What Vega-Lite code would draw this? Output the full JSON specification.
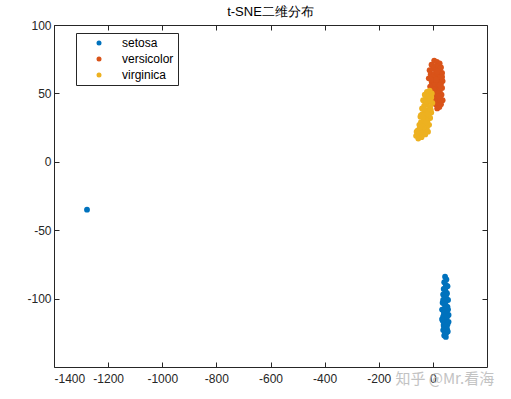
{
  "$schema": "https://vega.github.io/schema/vega-lite/v6.json",
  "autosize": {"type": "none"},
  "width": 433,
  "height": 342,
  "padding": {"left": 54, "top": 25, "right": 24, "bottom": 32},
  "background": "white",
  "title": {"text": "t-SNE二维分布", "font": "Liberation Sans", "fontSize": 13, "fontWeight": "normal", "color": "#000000", "offset": 0, "anchor": "middle"},
  "config": {
    "view": {"stroke": "#262626", "strokeWidth": 1},
    "axis": {"grid": false, "domain": false, "tickColor": "#262626", "tickSize": -5, "labelFont": "Liberation Sans", "labelFontSize": 12, "labelColor": "#262626", "title": null, "labelOverlap": false, "labelExpr": "'' + datum.value"}
  },
  "datasets": {
    "pts": [
      {"x": -1278, "y": -35, "c": "setosa"},
      {"x": 45, "y": -84, "c": "setosa"}, {"x": 50, "y": -86, "c": "setosa"}, {"x": 42, "y": -88, "c": "setosa"}, {"x": 48, "y": -90, "c": "setosa"}, {"x": 54, "y": -91, "c": "setosa"},
      {"x": 40, "y": -93, "c": "setosa"}, {"x": 46, "y": -94, "c": "setosa"}, {"x": 52, "y": -96, "c": "setosa"}, {"x": 38, "y": -97, "c": "setosa"}, {"x": 44, "y": -99, "c": "setosa"},
      {"x": 50, "y": -100, "c": "setosa"}, {"x": 56, "y": -101, "c": "setosa"}, {"x": 36, "y": -103, "c": "setosa"}, {"x": 42, "y": -104, "c": "setosa"}, {"x": 48, "y": -105, "c": "setosa"},
      {"x": 54, "y": -106, "c": "setosa"}, {"x": 34, "y": -108, "c": "setosa"}, {"x": 40, "y": -109, "c": "setosa"}, {"x": 46, "y": -110, "c": "setosa"}, {"x": 52, "y": -111, "c": "setosa"},
      {"x": 58, "y": -112, "c": "setosa"}, {"x": 38, "y": -113, "c": "setosa"}, {"x": 44, "y": -114, "c": "setosa"}, {"x": 50, "y": -115, "c": "setosa"}, {"x": 36, "y": -116, "c": "setosa"},
      {"x": 42, "y": -117, "c": "setosa"}, {"x": 48, "y": -118, "c": "setosa"}, {"x": 54, "y": -119, "c": "setosa"}, {"x": 40, "y": -120, "c": "setosa"}, {"x": 46, "y": -121, "c": "setosa"},
      {"x": 52, "y": -122, "c": "setosa"}, {"x": 38, "y": -123, "c": "setosa"}, {"x": 44, "y": -124, "c": "setosa"}, {"x": 50, "y": -125, "c": "setosa"}, {"x": 42, "y": -127, "c": "setosa"},
      {"x": 48, "y": -128, "c": "setosa"}, {"x": 46, "y": -92, "c": "setosa"}, {"x": 38, "y": -101, "c": "setosa"}, {"x": 56, "y": -108, "c": "setosa"}, {"x": 34, "y": -115, "c": "setosa"},
      {"x": 58, "y": -117, "c": "setosa"}, {"x": 44, "y": -107, "c": "setosa"}, {"x": 50, "y": -97, "c": "setosa"}, {"x": 40, "y": -119, "c": "setosa"}, {"x": 55, "y": -124, "c": "setosa"},
      {"x": 47, "y": -102, "c": "setosa"}, {"x": 41, "y": -111, "c": "setosa"}, {"x": 53, "y": -113, "c": "setosa"}, {"x": 45, "y": -126, "c": "setosa"},
      {"x": 5, "y": 74, "c": "versicolor"}, {"x": 15, "y": 73, "c": "versicolor"}, {"x": 25, "y": 72, "c": "versicolor"}, {"x": -5, "y": 71, "c": "versicolor"}, {"x": 10, "y": 70, "c": "versicolor"},
      {"x": 20, "y": 70, "c": "versicolor"}, {"x": 30, "y": 69, "c": "versicolor"}, {"x": 0, "y": 68, "c": "versicolor"}, {"x": -12, "y": 67, "c": "versicolor"}, {"x": 12, "y": 67, "c": "versicolor"},
      {"x": 24, "y": 66, "c": "versicolor"}, {"x": 34, "y": 65, "c": "versicolor"}, {"x": -8, "y": 64, "c": "versicolor"}, {"x": 4, "y": 64, "c": "versicolor"}, {"x": 18, "y": 63, "c": "versicolor"},
      {"x": 28, "y": 62, "c": "versicolor"}, {"x": -15, "y": 61, "c": "versicolor"}, {"x": 8, "y": 61, "c": "versicolor"}, {"x": 22, "y": 60, "c": "versicolor"}, {"x": 36, "y": 59, "c": "versicolor"},
      {"x": -4, "y": 58, "c": "versicolor"}, {"x": 14, "y": 58, "c": "versicolor"}, {"x": 30, "y": 57, "c": "versicolor"}, {"x": 2, "y": 56, "c": "versicolor"}, {"x": 20, "y": 55, "c": "versicolor"},
      {"x": 34, "y": 54, "c": "versicolor"}, {"x": -10, "y": 55, "c": "versicolor"}, {"x": 10, "y": 53, "c": "versicolor"}, {"x": 26, "y": 52, "c": "versicolor"}, {"x": 6, "y": 50, "c": "versicolor"},
      {"x": 18, "y": 50, "c": "versicolor"}, {"x": 32, "y": 49, "c": "versicolor"}, {"x": 14, "y": 47, "c": "versicolor"}, {"x": 28, "y": 46, "c": "versicolor"}, {"x": 36, "y": 45, "c": "versicolor"},
      {"x": 20, "y": 44, "c": "versicolor"}, {"x": 10, "y": 42, "c": "versicolor"}, {"x": 30, "y": 42, "c": "versicolor"}, {"x": 24, "y": 40, "c": "versicolor"}, {"x": 16, "y": 39, "c": "versicolor"},
      {"x": -2, "y": 62, "c": "versicolor"}, {"x": 26, "y": 68, "c": "versicolor"}, {"x": 16, "y": 66, "c": "versicolor"}, {"x": -6, "y": 60, "c": "versicolor"}, {"x": 26, "y": 56, "c": "versicolor"},
      {"x": 12, "y": 60, "c": "versicolor"}, {"x": 8, "y": 45, "c": "versicolor"}, {"x": 34, "y": 62, "c": "versicolor"}, {"x": 4, "y": 53, "c": "versicolor"}, {"x": 22, "y": 48, "c": "versicolor"},
      {"x": -12, "y": 52, "c": "virginica"}, {"x": -22, "y": 51, "c": "virginica"}, {"x": -4, "y": 50, "c": "virginica"}, {"x": -30, "y": 49, "c": "virginica"}, {"x": -16, "y": 48, "c": "virginica"},
      {"x": -6, "y": 47, "c": "virginica"}, {"x": -26, "y": 46, "c": "virginica"}, {"x": -36, "y": 45, "c": "virginica"}, {"x": -14, "y": 44, "c": "virginica"}, {"x": -2, "y": 43, "c": "virginica"},
      {"x": -22, "y": 42, "c": "virginica"}, {"x": -32, "y": 41, "c": "virginica"}, {"x": -10, "y": 40, "c": "virginica"}, {"x": -40, "y": 39, "c": "virginica"}, {"x": -18, "y": 38, "c": "virginica"},
      {"x": -28, "y": 37, "c": "virginica"}, {"x": -6, "y": 36, "c": "virginica"}, {"x": -38, "y": 35, "c": "virginica"}, {"x": -16, "y": 34, "c": "virginica"}, {"x": -26, "y": 33, "c": "virginica"},
      {"x": -46, "y": 33, "c": "virginica"}, {"x": -10, "y": 32, "c": "virginica"}, {"x": -34, "y": 31, "c": "virginica"}, {"x": -20, "y": 30, "c": "virginica"}, {"x": -44, "y": 29, "c": "virginica"},
      {"x": -28, "y": 28, "c": "virginica"}, {"x": -14, "y": 27, "c": "virginica"}, {"x": -50, "y": 27, "c": "virginica"}, {"x": -36, "y": 26, "c": "virginica"}, {"x": -22, "y": 25, "c": "virginica"},
      {"x": -42, "y": 24, "c": "virginica"}, {"x": -30, "y": 23, "c": "virginica"}, {"x": -56, "y": 23, "c": "virginica"}, {"x": -18, "y": 22, "c": "virginica"}, {"x": -38, "y": 21, "c": "virginica"},
      {"x": -50, "y": 20, "c": "virginica"}, {"x": -28, "y": 20, "c": "virginica"}, {"x": -62, "y": 19, "c": "virginica"}, {"x": -42, "y": 18, "c": "virginica"}, {"x": -54, "y": 17, "c": "virginica"},
      {"x": -24, "y": 44, "c": "virginica"}, {"x": -8, "y": 38, "c": "virginica"}, {"x": -34, "y": 39, "c": "virginica"}, {"x": -44, "y": 34, "c": "virginica"}, {"x": -24, "y": 29, "c": "virginica"},
      {"x": -12, "y": 45, "c": "virginica"}, {"x": -32, "y": 34, "c": "virginica"}, {"x": -60, "y": 22, "c": "virginica"}, {"x": -20, "y": 35, "c": "virginica"}, {"x": -48, "y": 25, "c": "virginica"}
    ],
    "wm": [{"x": 44, "y": -159, "t": "知乎 @Mr.看海"}]
  },
  "layer": [
    {
      "data": {"name": "pts"},
      "mark": {"type": "circle", "size": 34, "opacity": 1},
      "encoding": {
        "x": {"field": "x", "type": "quantitative", "scale": {"domain": [-1400, 200], "nice": false, "zero": false},
              "axis": {"orient": "bottom", "values": [-1400, -1200, -1000, -800, -600, -400, -200, 0], "labelPadding": 11}},
        "y": {"field": "y", "type": "quantitative", "scale": {"domain": [-150, 100], "nice": false, "zero": false},
              "axis": {"orient": "left", "values": [-100, -50, 0, 50, 100], "labelPadding": 8}},
        "color": {"field": "c", "type": "nominal",
                  "scale": {"domain": ["setosa", "versicolor", "virginica"], "range": ["#0072BD", "#D95319", "#EDB120"]},
                  "legend": {"title": null, "orient": "none", "legendX": 22, "legendY": 8, "direction": "vertical",
                             "fillColor": "white", "strokeColor": "#262626", "padding": 4, "rowPadding": 4,
                             "symbolType": "circle", "symbolSize": 25, "symbolOffset": 13, "labelOffset": 17,
                             "labelFont": "Liberation Sans", "labelFontSize": 12, "labelColor": "#000000"}},
        "order": {"field": "c", "type": "nominal"}
      }
    },
    {
      "data": {"name": "wm"},
      "mark": {"type": "text", "font": "Noto Sans CJK SC", "fontSize": 15, "color": "#b4b4b4", "opacity": 0.8, "align": "center", "baseline": "middle"},
      "encoding": {
        "x": {"field": "x", "type": "quantitative", "axis": {"orient": "top", "values": [-1400, -1200, -1000, -800, -600, -400, -200, 0], "labels": false}},
        "y": {"field": "y", "type": "quantitative", "axis": {"orient": "right", "values": [-100, -50, 0, 50, 100], "labels": false}},
        "text": {"field": "t"}
      }
    }
  ],
  "resolve": {"axis": {"x": "independent", "y": "independent"}}
}
